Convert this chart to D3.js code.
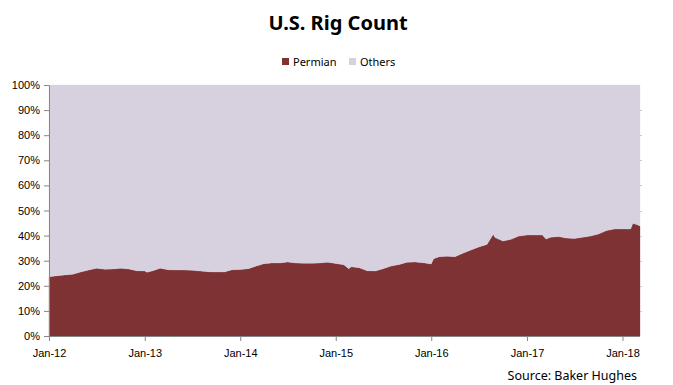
<!DOCTYPE html>
<html><head><meta charset="utf-8">
<script src="https://cdn.jsdelivr.net/npm/d3@7"></script>
<style>body{margin:0;background:#fff;}svg{display:block;font-family:"Noto Sans","Open Sans",sans-serif;}</style>
</head><body>
<svg id="c" width="673" height="385"></svg>
<script>
const dates = ["2012-01-01","2012-02-01","2012-03-01","2012-04-01","2012-05-01","2012-06-01","2012-07-01","2012-08-01","2012-09-01","2012-10-01","2012-11-01","2012-12-01",
"2013-01-01","2013-01-10","2013-02-01","2013-03-01","2013-04-01","2013-05-01","2013-06-01","2013-07-01","2013-08-01","2013-09-01","2013-10-01","2013-11-01","2013-12-01",
"2014-01-01","2014-02-01","2014-03-01","2014-04-01","2014-05-01","2014-06-01","2014-07-01","2014-08-01","2014-09-01","2014-10-01","2014-11-01","2014-12-01",
"2015-01-01","2015-02-01","2015-02-20","2015-03-01","2015-04-01","2015-05-01","2015-06-01","2015-07-01","2015-08-01","2015-09-01","2015-10-01","2015-11-01","2015-12-01",
"2016-01-01","2016-01-10","2016-02-01","2016-03-01","2016-04-01","2016-05-01","2016-06-01","2016-07-01","2016-08-01","2016-08-25","2016-09-01","2016-10-01","2016-11-01","2016-12-01",
"2017-01-01","2017-02-01","2017-03-01","2017-03-15","2017-04-01","2017-05-01","2017-06-01","2017-07-01","2017-08-01","2017-09-01","2017-10-01","2017-11-01","2017-12-01",
"2018-01-01","2018-02-01","2018-02-10","2018-03-01","2018-03-09"];
const permian = [23.6,24.0,24.3,24.6,25.5,26.3,27.0,26.6,26.7,27.0,26.7,26.0,
25.9,25.4,26.0,27.0,26.4,26.3,26.3,26.2,25.9,25.6,25.5,25.5,26.4,
26.5,26.8,27.8,28.8,29.1,29.1,29.5,29.1,29.0,29.0,29.1,29.4,
28.9,28.4,26.8,27.6,27.2,26.0,25.9,26.8,27.9,28.5,29.4,29.5,29.2,
28.7,30.8,31.6,31.8,31.6,33.0,34.3,35.5,36.5,40.5,39.2,37.8,38.5,39.8,
40.2,40.2,40.2,38.6,39.3,39.6,39.0,38.8,39.3,39.8,40.6,42.0,42.6,
42.6,42.6,44.9,44.2,43.8];
const yTicks = [0,10,20,30,40,50,60,70,80,90,100];
const xTicks = ["2012-01-01","2013-01-01","2014-01-01","2015-01-01","2016-01-01","2017-01-01","2018-01-01"];
const seriesNames = ["Permian","Others"];
const colors = ["#7F3233","#D7D1DF"];

const parse = d3.timeParse("%Y-%m-%d");
const rows = dates.map((d,i)=>({date:parse(d), Permian:permian[i], Others:100-permian[i]}));
const svg = d3.select("#c");
const L=49, R=640, T=85, B=336;
const x = d3.scaleTime().domain([parse("2012-01-01"), parse("2018-03-09")]).range([L, R]);
const y = d3.scaleLinear().domain([0,100]).range([B,T]);

const stack = d3.stack().keys(seriesNames)(rows);
const area = d3.area().x(d=>x(d.data.date)).y0(d=>y(d[0])).y1(d=>y(d[1]));
svg.append("g").selectAll("path").data(stack).join("path")
  .attr("d", area).attr("fill",(d,i)=>colors[i]).attr("stroke",(d,i)=>colors[i]).attr("stroke-width",0.3);

// right small ticks
svg.append("g").selectAll("line").data(yTicks.slice(1,-1)).join("line")
  .attr("x1",R).attr("x2",R+2).attr("y1",d=>Math.round(y(d))+0.5).attr("y2",d=>Math.round(y(d))+0.5)
  .attr("stroke","#c8c8c8");

const yAxis = d3.axisLeft(y).tickValues(yTicks).tickFormat(d=>d+"%").tickSize(5).tickSizeOuter(0);
const gy = svg.append("g").attr("transform",`translate(${L},0)`).call(yAxis);
gy.select(".domain").attr("stroke","#868686");
gy.selectAll(".tick line").attr("stroke","#868686");
gy.selectAll("text").attr("font-size","11px").attr("fill","#000").attr("x",-9);

const xAxis = d3.axisBottom(x).tickValues(xTicks.map(parse)).tickFormat(d3.timeFormat("%b-%y")).tickSize(5).tickSizeOuter(0);
const gx = svg.append("g").attr("transform",`translate(0,${B})`).call(xAxis);
gx.select(".domain").attr("stroke","#868686").attr("d",`M${L},0.5H${R}`);
gx.selectAll(".tick line").attr("stroke","#868686");
gx.selectAll("text").attr("font-size","11px").attr("fill","#000").attr("dy","1.2em");

svg.append("text").attr("x",338).attr("y",30).attr("text-anchor","middle")
  .attr("font-size","20px").attr("font-weight","bold").text("U.S. Rig Count");

const leg = svg.append("g");
const legX = [282, 349];
seriesNames.forEach((n,i)=>{
  leg.append("rect").attr("x",legX[i]).attr("y",58).attr("width",7).attr("height",7).attr("fill",colors[i]);
  leg.append("text").attr("x",legX[i]+11).attr("y",66).attr("font-size","11px").text(n);
});

svg.append("text").attr("x",637).attr("y",380).attr("text-anchor","end").attr("font-size","12.5px").text("Source: Baker Hughes");
</script>
</body></html>
